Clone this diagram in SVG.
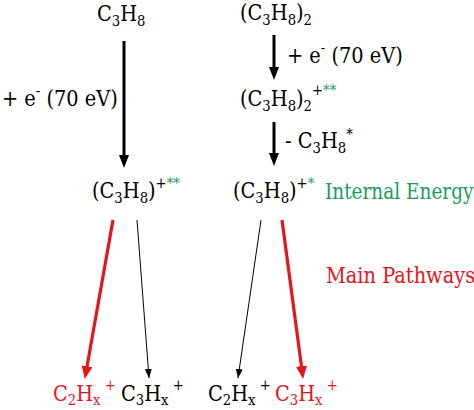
<svg xmlns="http://www.w3.org/2000/svg" width="474" height="410" viewBox="0 0 474 410">
<style>
text,tspan{font-family:"DejaVu Serif",serif}
text{font-size:22px;fill:#000}
.s{font-size:15px}
.g{fill:#17a05a}
.r{fill:#e8141c}
.blk{stroke:#000;stroke-width:3;fill:none}
.thin{stroke:#000;stroke-width:1;fill:none}
.red{stroke:#e8141c;stroke-width:3.2;fill:none}
</style>
<defs>
<marker id="mb" markerUnits="userSpaceOnUse" markerWidth="13" markerHeight="10" refX="3" refY="5" orient="auto"><path d="M0,0 L13,5 L0,10 z" fill="#000"/></marker>
<marker id="mr" markerUnits="userSpaceOnUse" markerWidth="13" markerHeight="11" refX="2" refY="5.5" orient="auto"><path d="M0,0 L13,5.5 L0,11 z" fill="#e8141c"/></marker>
<marker id="mt" markerUnits="userSpaceOnUse" markerWidth="9" markerHeight="7" refX="9" refY="3.5" orient="auto"><path d="M0,0 L9,3.5 L0,7 z" fill="#000"/></marker>
</defs>
<g id="connectors">
<line class="blk" x1="124" y1="41" x2="124" y2="158" marker-end="url(#mb)"/>
<line class="blk" x1="274" y1="35" x2="274" y2="70" marker-end="url(#mb)"/>
<line class="blk" x1="274" y1="122" x2="274" y2="156" marker-end="url(#mb)"/>
<line class="red" x1="113" y1="220" x2="86.7" y2="368.2" marker-end="url(#mr)"/>
<line class="thin" x1="137" y1="220" x2="149" y2="378" marker-end="url(#mt)"/>
<line class="thin" x1="261" y1="220" x2="238" y2="378" marker-end="url(#mt)"/>
<line class="red" x1="282" y1="220" x2="301.7" y2="368.1" marker-end="url(#mr)"/>
</g>
<g id="n-propane"><text font-family="DejaVu Serif" transform="translate(97,21) scale(0.88,1)">C<tspan class="s" dy="5">3</tspan><tspan dy="-5">H</tspan><tspan class="s" dy="5">8</tspan></text></g>
<g id="n-dimer"><text font-family="DejaVu Serif" transform="translate(240,20) scale(0.88,1)">(C<tspan class="s" dy="5">3</tspan><tspan dy="-5">H</tspan><tspan class="s" dy="5">8</tspan><tspan dy="-5">)</tspan><tspan class="s" dy="5">2</tspan></text></g>
<g id="lbl-left-e"><text font-family="DejaVu Serif" transform="translate(2,106) scale(0.88,1)">+ e<tspan class="s" dy="-10">-</tspan><tspan dy="10"> (70 eV)</tspan></text></g>
<g id="lbl-right-e"><text font-family="DejaVu Serif" transform="translate(287,63) scale(0.88,1)">+ e<tspan class="s" dy="-10">-</tspan><tspan dy="10"> (70 eV)</tspan></text></g>
<g id="n-dimer-ion"><text font-family="DejaVu Serif" transform="translate(240,106) scale(0.88,1)">(C<tspan class="s" dy="5">3</tspan><tspan dy="-5">H</tspan><tspan class="s" dy="5">8</tspan><tspan dy="-5">)</tspan><tspan class="s" dy="5">2</tspan><tspan class="s" dy="-16">+</tspan><tspan class="s g">**</tspan></text></g>
<g id="lbl-loss"><text font-family="DejaVu Serif" transform="translate(285,148) scale(0.88,1)">- C<tspan class="s" dy="5">3</tspan><tspan dy="-5">H</tspan><tspan class="s" dy="5">8</tspan><tspan class="s" dy="-14">*</tspan></text></g>
<g id="n-ion-left"><text font-family="DejaVu Serif" transform="translate(92,198) scale(0.88,1)">(C<tspan class="s" dy="5">3</tspan><tspan dy="-5">H</tspan><tspan class="s" dy="5">8</tspan><tspan dy="-5">)</tspan><tspan class="s" dy="-10">+</tspan><tspan class="s g">**</tspan></text></g>
<g id="n-ion-right"><text font-family="DejaVu Serif" transform="translate(233,198) scale(0.88,1)">(C<tspan class="s" dy="5">3</tspan><tspan dy="-5">H</tspan><tspan class="s" dy="5">8</tspan><tspan dy="-5">)</tspan><tspan class="s" dy="-10">+</tspan><tspan class="s g">*</tspan></text></g>
<g id="lbl-internal"><text class="g" transform="translate(325,199) scale(0.84,1)">Internal Energy</text></g>
<g id="lbl-main"><text class="r" transform="translate(326,283) scale(0.88,1)">Main Pathways</text></g>
<g id="p1"><text class="r" font-family="DejaVu Serif" transform="translate(53,401) scale(0.88,1)">C<tspan class="s" dy="4">2</tspan><tspan dy="-4">H</tspan><tspan class="s" dy="4">x</tspan><tspan class="s" dy="-15"> +</tspan></text></g>
<g id="p2"><text font-family="DejaVu Serif" transform="translate(121,401) scale(0.88,1)">C<tspan class="s" dy="4">3</tspan><tspan dy="-4">H</tspan><tspan class="s" dy="4">x</tspan><tspan class="s" dy="-15"> +</tspan></text></g>
<g id="p3"><text font-family="DejaVu Serif" transform="translate(208,401) scale(0.88,1)">C<tspan class="s" dy="4">2</tspan><tspan dy="-4">H</tspan><tspan class="s" dy="4">x</tspan><tspan class="s" dy="-15"> +</tspan></text></g>
<g id="p4"><text class="r" font-family="DejaVu Serif" transform="translate(275,401) scale(0.88,1)">C<tspan class="s" dy="4">3</tspan><tspan dy="-4">H</tspan><tspan class="s" dy="4">x</tspan><tspan class="s" dy="-15"> +</tspan></text></g>
</svg>
